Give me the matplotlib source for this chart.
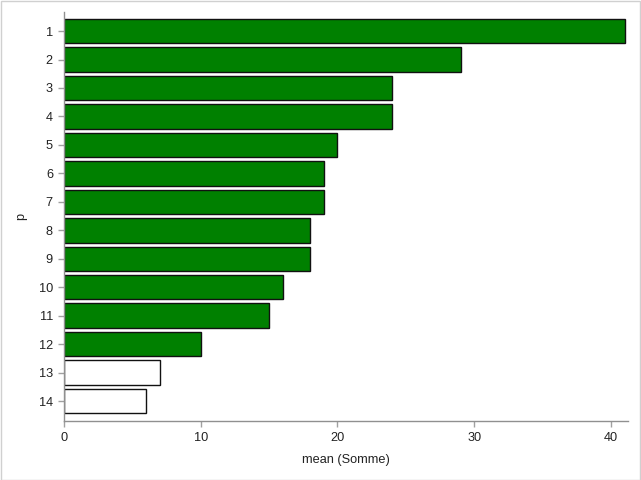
import matplotlib
matplotlib.use("Agg")
import matplotlib.pyplot as plt
from matplotlib.patches import Rectangle

categories = [str(i) for i in range(1, 15)]
values = [41, 29, 24, 24, 20, 19, 19, 18, 18, 16, 15, 10, 7, 6]
highlight = [True] * 12 + [False] * 2
xticks = [0, 10, 20, 30, 40]

plt.rcParams['font.family'] = ['Liberation Sans', 'DejaVu Sans']

fig = plt.figure(figsize=(6.41, 4.8), dpi=100)
ax = fig.add_axes([64 / 641, 59 / 480, (628 - 64) / 641, (421 - 12) / 480])

pos = list(range(1, len(categories) + 1))
colors = ['#008000' if h else 'white' for h in highlight]
ax.barh(pos, values, height=0.86, color=colors, edgecolor='#111111', linewidth=1.0)

ax.set_xlim(0, 41.25)
ax.set_ylim(14.7, 0.33)
ax.set_yticks(pos)
ax.set_yticklabels(categories)
ax.set_xticks(xticks)

for s in ['top', 'right']:
    ax.spines[s].set_visible(False)
for s in ['left', 'bottom']:
    ax.spines[s].set_color('#909090')
    ax.spines[s].set_linewidth(1.0)
ax.tick_params(axis='both', colors='#a0a0a0', labelcolor='#222222', labelsize=9.2, length=4, width=1)
ax.tick_params(axis='x', pad=4)
ax.tick_params(axis='y', pad=4)

ax.set_xlabel('mean (Somme)', fontsize=9.2, color='#222222', labelpad=7)
ax.set_ylabel('p', fontsize=9.2, color='#222222', labelpad=8)

fig.patches.append(Rectangle((0.5 / 641, 0.5 / 480), 1 - 1.5 / 641, 1 - 1.5 / 480,
                             transform=fig.transFigure, fill=False,
                             edgecolor='#d0d0d0', linewidth=1.0))

fig.savefig('out.png', dpi=100)
